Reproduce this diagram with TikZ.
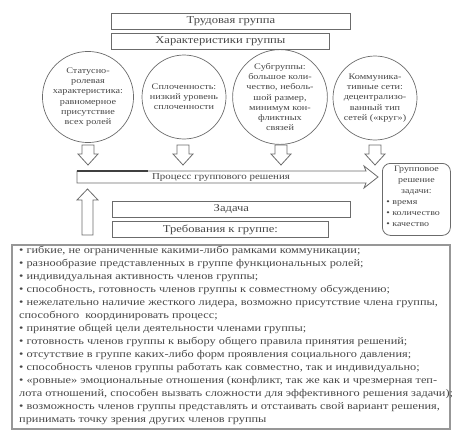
\documentclass[tikz,border=0pt]{standalone}
\usepackage{fontspec}
\setmainfont{Liberation Serif}[FakeStretch=1.2]
\definecolor{ln}{gray}{0.42}
\definecolor{tx}{gray}{0.28}
\begin{document}
\begin{tikzpicture}[x=1pt,y=-1pt,
  box/.style={draw=ln, line width=0.8pt, inner sep=0pt, anchor=north west, text=tx,
    font=\fontsize{10.5}{12}\selectfont},
  circ/.style={circle, draw=ln, line width=0.7pt, minimum size=84pt, inner sep=0pt,
    align=center, text=tx, font=\fontsize{8.5}{10.2}\selectfont},
  blk/.style={draw=ln, line width=0.8pt, fill=white, line join=miter}]
\useasboundingbox (0,0) rectangle (474,439);

% title boxes
\node[box, minimum width=239pt, minimum height=16pt] (trud) at (111,13) {Трудовая группа};
\node[box, minimum width=218pt, minimum height=16pt] (har) at (111,33) {Характеристики группы};

% circles
\node[circ] (c1) at (88,97) {Статусно-\\ролевая\\характеристика:\\равномерное\\присутствие\\всех ролей};
\node[circ] (c2) at (184,97) {Сплоченность:\\низкий уровень\\сплоченности};
\node[circ] (c3) at (280,97) {Субгруппы:\\большое коли-\\чество, неболь-\\шой размер,\\минимум кон-\\фликтных\\связей};
\node[circ] (c4) at (375,98) {Коммуника-\\тивные сети:\\децентрализо-\\ванный тип\\сетей («круг»)};

% down block arrows
\foreach \n/\cx in {1/88,2/183,3/281,4/375}{
  \coordinate (d\n) at (\cx,145);
  \draw[blk] (\cx-6,145) -- (\cx+6,145) -- (\cx+6,154) -- (\cx+10,154) -- (\cx,165)
    -- (\cx-10,154) -- (\cx-6,154) -- cycle;
}

% process arrow
\draw[blk] (77,171) -- (366,171) -- (364,166) -- (378,177) -- (364,188) -- (366,183)
  -- (77,183) -- cycle;
\draw[line width=1.3pt, black!75] (77,171) -- (148,171);
\node[text=tx, font=\fontsize{9.1}{10}\selectfont, inner sep=0pt] (proc) at (221,177.5) {Процесс группового решения};

% up block arrow
\draw[blk] (82,235) -- (82,200) -- (77,200) -- (87.5,189) -- (98,200) -- (93,200)
  -- (93,235) -- cycle;

% task boxes
\node[box, minimum width=238pt, minimum height=16pt] (zad) at (112,201) {Задача};
\node[box, minimum width=216pt, minimum height=16pt] (treb) at (112,221) {Требования к группе:};

% result box
\node[draw=ln, line width=0.8pt, rounded corners=8pt, anchor=north west,
  minimum width=68pt, minimum height=72pt, inner sep=0pt] (res) at (382,163) {};
\node[anchor=north, text=tx, font=\fontsize{8.3}{11}\selectfont, inner sep=0pt, align=left]
  (restxt) at ([yshift=-3pt]res.north) {\parbox{62pt}{\centering Групповое\\решение\\задачи:\par
  \raggedright\hspace*{1pt}• время\\\hspace*{1pt}• количество\\\hspace*{1pt}• качество}};

% requirements list
\draw[draw=ln!70, line width=1.4pt] (12,245) rectangle (450,429);
\coordinate (lst) at (19,246);
\node[anchor=north west, inner sep=0pt, align=left, text=tx,
  font=\fontsize{10.25}{13}\selectfont] (list) at (lst) {%
• гибкие, не ограниченные какими-либо рамками коммуникации;\\
• разнообразие представленных в группе функциональных ролей;\\
• индивидуальная активность членов группы;\\
• способность, готовность членов группы к совместному обсуждению;\\
• нежелательно наличие жесткого лидера, возможно присутствие члена группы,\\
способного\ \ координировать процесс;\\
• принятие общей цели деятельности членами группы;\\
• готовность членов группы к выбору общего правила принятия решений;\\
• отсутствие в группе каких-либо форм проявления социального давления;\\
• способность членов группы работать как совместно, так и индивидуально;\\
• «ровные» эмоциональные отношения (конфликт, так же как и чрезмерная теп-\\
лота отношений, способен вызвать сложности для эффективного решения задачи);\\
• возможность членов группы представлять и отстаивать свой вариант решения,\\
принимать точку зрения других членов группы};
\end{tikzpicture}
\end{document}
